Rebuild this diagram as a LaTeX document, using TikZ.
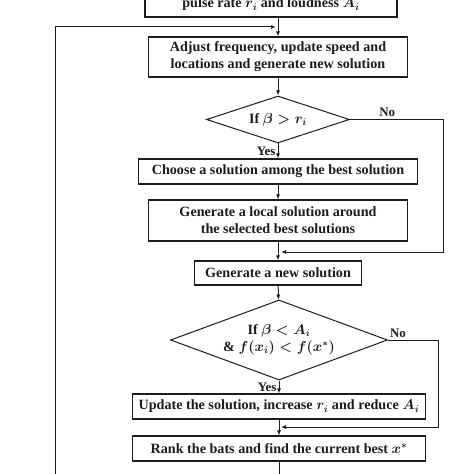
\documentclass[tikz,border=0pt]{standalone}
\usepackage{fontspec}
\setmainfont{Liberation Serif}
\usetikzlibrary{arrows.meta, positioning, shapes.geometric}
\definecolor{ink}{HTML}{1C1C1C}
\tikzset{
  font=\bfseries\boldmath\fontsize{14.2}{17}\selectfont,
  >={Latex[length=5bp, width=4bp]},
  %
  box/.style={
    draw=ink, line width=1.1pt, rectangle, align=center, text=ink,
    inner sep=2bp,
  },
  decide/.style={
    draw=ink, line width=1pt, diamond, aspect=3, align=center, text=ink,
    inner sep=0pt,
  },
  %
  flow/.style={draw=ink, line width=1pt, ->},
  %
  lbl/.style={font=\bfseries\fontsize{13}{15}\selectfont, text=ink, inner sep=2pt},
}

\begin{document}
\begin{tikzpicture}[x=1bp, y=-1bp]
\useasboundingbox (0,0) rectangle (474,474);

% ------------------------------------------------------------ main column
\node[box, minimum width=252bp, text height=30bp, text depth=4bp,
      inner ysep=5bp, anchor=base] (init) at (271,8)
  {pulse rate $r_i$ and loudness $A_i$};

\node[box, minimum width=259bp, minimum height=40bp] (adjust) at (278,57)
  {Adjust frequency, update speed and\\locations and generate new solution};
\node[decide, minimum width=143bp, minimum height=47bp] (test1) at (278,119.5)
  {If $\beta > r_i$};
\node[box, minimum width=279bp, minimum height=25bp] (choose) at (278,171.5)
  {Choose a solution among the best solution};
\node[box, minimum width=259bp, minimum height=41bp] (local) at (278,220.5)
  {Generate a local solution around\\the selected best solutions};
\node[box, minimum width=167bp, minimum height=24bp] (fresh) at (278,273)
  {Generate a new solution};
\node[decide, minimum width=217bp, minimum height=80bp] (test2) at (279,340)
  {If $\beta < A_i$\\\& $f(x_i) < f(x^*)$};
\node[box, minimum width=293bp, minimum height=25bp] (update) at (279,406.5)
  {Update the solution, increase $r_i$ and reduce $A_i$};
\node[box, minimum width=293bp, minimum height=25bp] (rank) at (279,448.5)
  {Rank the bats and find the current best $x^*$};

% ------------------------------------------------------------- connectors
\coordinate (loop)   at (55,490);
\coordinate (join)   at (276,27);
\coordinate (rail1)  at (443,0);
\coordinate (merge1) at (281,252);
\coordinate (rail2)  at (438,0);
\coordinate (merge2) at (281,427);
\coordinate (exit)   at (279,490);

\draw[flow] (init.south -| adjust.north) -- (adjust.north);
\draw[flow] (loop) |- (join);
\draw[flow] (adjust) -- (test1);
\draw[flow] (test1) -- node[lbl, left] {Yes} (choose);
\draw[flow] (choose) -- (local);
\draw[flow] (local) -- (fresh);
\draw[flow] (fresh) -- (test2);
\draw[flow] (test2) -- node[lbl, left] {Yes} (update);
\draw[flow] (update) -- (rank);
\draw[flow] (rank) -- (exit);

% the two "No" branches
\draw[flow] (test1.east) -- node[lbl, above, pos=.4] {No} (test1.east -| rail1)
  |- (merge1);
\draw[flow] (test2.east) -- node[lbl, above, pos=.2] {No} (test2.east -| rail2)
  |- (merge2);

\end{tikzpicture}
\end{document}
